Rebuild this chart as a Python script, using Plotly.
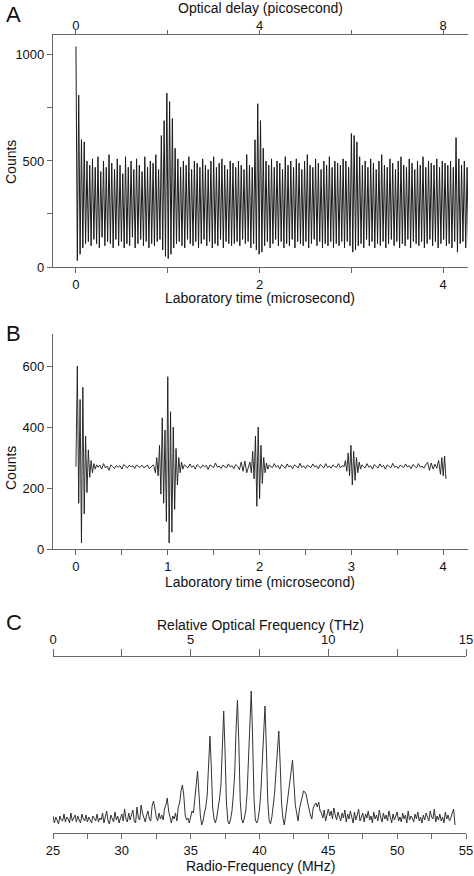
import numpy as np
import plotly.graph_objects as go

# ---- panel A: raw counts, sampled every 0.015 microsecond ----
a_step = 0.015
a_counts = [
    1040, 30, 810, 60, 600, 90, 590, 110, 500, 120, 480, 100, 510, 130, 470, 110, 520, 90, 450, 140,
    500, 100, 470, 120, 530, 110, 490, 90, 460, 130, 510, 100, 480, 120, 440, 90, 520, 110, 470, 100,
    500, 140, 460, 90, 510, 110, 480, 130, 450, 100, 520, 120, 470, 90, 500, 110, 490, 100, 530, 120,
    460, 130, 620, 80, 690, 50, 820, 40, 780, 60, 700, 90, 560, 110,
    510, 120, 470, 100, 500, 90, 480, 130, 520, 110, 460, 100, 500, 120, 490, 90, 470, 110, 510, 130,
    480, 100, 460, 120, 500, 90, 520, 110, 470, 100, 490, 130, 510, 90, 480, 120, 460, 110, 500, 100,
    490, 110, 470, 120, 500, 100, 480, 130, 460, 110,
    530, 120, 480, 90, 470, 110, 600, 80, 770, 60, 690, 70, 560, 100, 500, 120, 480, 90, 510, 110,
    470, 130, 500, 100, 490, 120, 460, 90, 520, 110, 480, 100, 500, 130, 470, 90, 510, 120, 490, 110,
    460, 100, 500, 120, 530, 90, 480, 110, 470, 130, 510, 100, 490, 120, 460, 90, 500, 110, 480, 100,
    520, 120, 470, 90, 500, 110, 490, 100, 480, 120, 510, 90, 500, 120, 470, 100,
    630, 70, 620, 80, 590, 100, 520, 110, 480, 90, 500, 130, 470, 100,
    510, 120, 490, 90, 460, 110, 500, 100, 530, 120, 480, 90, 470, 110, 510, 130, 490, 100, 460, 120,
    500, 90, 520, 110, 480, 100, 470, 130, 510, 90, 490, 120, 460, 110, 500, 100, 480, 120, 520, 90,
    470, 110, 500, 130, 490, 100, 480, 120, 510, 90, 470, 110, 500, 130, 490, 100,
    480, 110, 500, 90, 470, 120, 610, 70, 510, 110,
    480, 120, 500, 90, 470, 110, 520, 100, 490, 130, 460, 100, 500, 120, 510, 90, 480,
]

# ---- panel B: averaged counts ----
# (start time, step, values)
b_segments = [
    (0.0, 0.015, [270, 600, 150, 490, 20, 530, 115, 370, 185, 325, 235, 290, 250, 280, 262, 276]),
    (0.24, 0.02, [268, 275, 262, 280, 266, 272, 258, 276, 270, 264, 274, 268, 273, 262, 277, 271, 266, 275, 269, 273,
                  264, 276, 270, 268, 275, 266, 272, 275, 263, 270, 276]),
    (0.85, 0.015, [270, 250, 300, 240, 340, 180, 430, 150, 390, 90, 565, 20, 450, 55, 400, 130, 330, 210, 300, 250,
                   285, 262, 276]),
    (1.2, 0.02, [270, 266, 279, 268, 273, 262, 277, 271, 265, 276, 269, 274, 261, 276, 270, 267, 282, 268, 272, 264,
                 275, 270, 266, 279, 269, 273, 263, 277, 271, 260, 285, 255, 288, 250]),
    (1.88, 0.015, [270, 285, 250, 320, 230, 370, 140, 400, 165, 340, 215, 300, 250, 282, 262, 276]),
    (2.12, 0.02, [270, 267, 280, 268, 274, 262, 277, 271, 265, 279, 269, 273, 263, 276, 270, 266, 281, 268, 272, 264,
                  275, 270, 267, 279, 269, 273, 263, 277, 271, 266, 280, 268, 272, 265, 276, 270, 268, 280, 266, 273]),
    (2.92, 0.015, [270, 290, 255, 315, 240, 340, 210, 320, 225, 300, 250, 285, 262, 276]),
    (3.13, 0.02, [270, 266, 280, 268, 273, 262, 277, 271, 265, 279, 269, 274, 262, 276, 270, 266, 281, 268, 272, 264,
                  275, 270, 267, 279, 269, 273, 263, 277, 271, 266, 280, 268, 272, 265, 276, 284, 258, 282, 262, 278,
                  265, 290]),
    (3.97, 0.015, [245, 300, 240, 305, 230]),
]

# ---- panel C: spectrum, every 0.1 MHz from 25 MHz ----
c_start = 25.0
c_step = 0.1
c_signal = [
    17, 10, 16, 12,
    9, 17, 13, 12, 19, 11, 16, 14, 10, 20, 12, 15, 18, 11, 17, 13, 10, 19, 14, 12, 18, 11, 16, 13,
    10, 17, 14, 12, 19, 11, 15, 13, 20, 10, 16, 22, 12, 9, 18, 14, 11, 21, 13, 17,
    10, 15, 19, 12, 24, 14, 11, 20, 13, 18, 23, 12, 10, 26, 15, 13, 28, 20, 14, 11,
    18, 22, 14, 12, 27, 32, 25, 16, 12, 20, 14, 18, 13, 24, 28, 35, 22, 15, 10, 17,
    14, 20, 12, 26, 30, 42, 48, 38, 18, 13, 15, 10, 16, 22, 20, 35, 50, 62, 40, 18,
    8, 12, 20, 26, 38, 72, 97, 65, 25, 14, 10, 16, 24, 35, 48, 90, 122, 80, 30, 12,
    9, 14, 22, 38, 60, 105, 133, 90, 32, 14, 10, 15, 22, 40, 70, 115, 142, 95, 35, 13,
    10, 14, 24, 42, 66, 100, 127, 85, 32, 13, 9, 16, 26, 40, 62, 88, 102, 70, 30, 15,
    8, 18, 30, 36, 52, 66, 73, 50, 28, 20, 12, 24, 30, 34, 42, 41, 38, 30, 22, 18,
    14, 25, 28, 30, 26, 31, 22, 20, 15, 23, 12, 19, 24, 17, 22, 14, 25, 18, 13, 21,
    16, 12, 20, 15, 23, 11, 19, 14, 22, 17, 10, 21, 13, 18, 24, 12, 16, 20, 11, 19,
    15, 22, 13, 17, 10, 21, 14, 18, 12, 23, 16, 11, 20, 14, 18, 12, 22, 15, 10, 19,
    13, 17, 21, 12, 16, 11, 20, 14, 18, 10, 22, 13, 17, 15, 11, 19, 14, 21, 12, 16,
    10, 18, 13, 20, 15, 12, 22, 16, 14, 24, 11, 17, 13, 19, 12, 16, 10, 21, 14, 18,
    12, 15, 20, 24, 8,
]

a_time = np.arange(len(a_counts)) * a_step
b_time = np.concatenate([t0 + np.arange(len(v)) * dt for t0, dt, v in b_segments])
b_counts = np.concatenate([v for _, _, v in b_segments])
c_freq = c_start + np.arange(len(c_signal)) * c_step

FONT = "Liberation Sans, Arial, sans-serif"
AX = "#666"
W, H = 474, 876


def xp(px):
    return px / W


def yp(px):
    return 1 - px / H


def axis(**kw):
    base = dict(showline=True, linecolor=AX, linewidth=1.2, ticks="outside", tickcolor=AX,
                ticklen=5, showgrid=False, zeroline=False, automargin=False,
                tickfont=dict(size=13, color="#111"))
    base.update(kw)
    return base


fig = go.Figure()
fig.add_trace(go.Scatter(x=a_time, y=a_counts, mode="lines", line=dict(color="#1a1a1a", width=1.0),
                         xaxis="x", yaxis="y"))
fig.add_trace(go.Scatter(x=b_time, y=b_counts, mode="lines", line=dict(color="#1a1a1a", width=0.9),
                         xaxis="x3", yaxis="y3"))
fig.add_trace(go.Scatter(x=c_freq, y=c_signal, mode="lines", line=dict(color="#333", width=1),
                         xaxis="x4", yaxis="y4"))
# dummy traces so the top axes render
fig.add_trace(go.Scatter(x=[0], y=[None], xaxis="x2", yaxis="y"))
fig.add_trace(go.Scatter(x=[0], y=[None], xaxis="x5", yaxis="y4"))

xdom = [xp(53), xp(468)]
fig.update_layout(
    width=W, height=H, showlegend=False, plot_bgcolor="white", paper_bgcolor="white",
    margin=dict(l=0, r=0, t=0, b=0), font=dict(family=FONT, size=13, color="#111"),
    # panel A
    xaxis=axis(domain=xdom, range=[-0.25, 4.27], anchor="y",
               tickvals=[0, 1, 2, 3, 4], ticktext=["0", "", "2", "", "4"]),
    yaxis=axis(domain=[yp(267), yp(35)], range=[0, 1094], anchor="x",
               tickvals=[0, 250, 500, 750, 1000], ticktext=["0", "", "500", "", "1000"]),
    xaxis2=axis(overlaying="x", side="top", anchor="y", range=[-0.5, 8.54], ticklen=4,
                ticklabelstandoff=-5,
                tickvals=[0, 2, 4, 6, 8], ticktext=["0", "", "4", "", "8"]),
    # panel B
    xaxis3=axis(domain=xdom, range=[-0.25, 4.27], anchor="y3",
                tickvals=[0.5 * i for i in range(9)],
                ticktext=[str(i // 2) if i % 2 == 0 else "" for i in range(9)]),
    yaxis3=axis(domain=[yp(549), yp(334)], range=[0, 705], anchor="x3",
                tickvals=[0, 200, 400, 600]),
    # panel C
    xaxis4=axis(domain=[xp(53), xp(466)], range=[25, 55], anchor="y4",
                tickvals=[25 + 2.5 * i for i in range(13)],
                ticktext=[str(25 + 5 * (i // 2)) if i % 2 == 0 else "" for i in range(13)]),
    yaxis4=dict(domain=[yp(833), yp(657)], range=[0, 176], anchor="x4", visible=False),
    xaxis5=axis(overlaying="x4", side="top", anchor="y4", range=[0, 15],
                tickvals=[0, 2.5, 5, 7.5, 10, 12.5, 15], ticktext=["0", "", "5", "", "10", "", "15"],
                ticklen=7),
)

titles = [
    ("Optical delay (picosecond)", 260, 8, 0),
    ("Laboratory time (microsecond)", 260, 298, 0),
    ("Laboratory time (microsecond)", 260, 582, 0),
    ("Relative Optical Frequency (THz)", 260, 625, 0),
    ("Radio-Frequency (MHz)", 260, 866, 0),
    ("Counts", 11, 162, -90),
    ("Counts", 11, 468, -90),
]
for text, xpx, ypx, ang in titles:
    fig.add_annotation(text=text, x=xp(xpx), y=yp(ypx), xref="paper", yref="paper", showarrow=False,
                       xanchor="center", yanchor="middle", textangle=ang,
                       font=dict(size=14, color="#111"))

for label, ypx in [("A", 15), ("B", 333), ("C", 622)]:
    fig.add_annotation(text=label, x=xp(4), y=yp(ypx), xref="paper", yref="paper", showarrow=False,
                       xanchor="left", yanchor="middle", font=dict(size=22, color="#111"))

fig.write_html("out.html", config={"displayModeBar": False},
               post_script="document.body.style.margin='0';")
